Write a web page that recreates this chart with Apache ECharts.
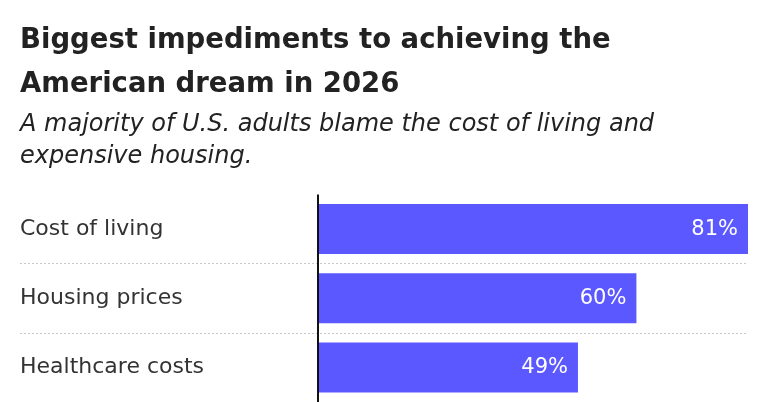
<!DOCTYPE html>
<html>
<head>
	<meta charset="utf-8"/>
	<title>Biggest impediments to achieving the American dream in 2026</title>
	<style>
		html, body { margin: 0; padding: 0; background: #fff; }
		#chart { width: 768px; height: 402px; }
	</style>
</head>
<body>
	<div id="chart"></div>
	<script src="https://cdn.jsdelivr.net/npm/echarts@6/dist/echarts.min.js"></script>
	<script>
		var categories = ['Cost of living', 'Housing prices', 'Healthcare costs'];
		var shares = [81, 60, 49];

		var font = '"DejaVu Sans", sans-serif';
		var myChart = echarts.init(document.getElementById('chart'));

		var option = {
			animation: false,
			title: {
				text: 'Biggest impediments to achieving the\nAmerican dream in 2026',
				subtext: 'A majority of U.S. adults blame the cost of living and\nexpensive housing.',
				left: 20,
				top: 19,
				padding: 0,
				itemGap: 2,
				textStyle: {
					fontFamily: font,
					fontSize: 27.5,
					fontWeight: 'bold',
					lineHeight: 44,
					color: '#222'
				},
				subtextStyle: {
					fontFamily: font,
					fontSize: 24,
					fontStyle: 'italic',
					lineHeight: 32,
					color: '#222'
				}
			},
			grid: {
				left: 20,
				right: 20,
				top: 194.5,
				bottom: -2.5
			},
			xAxis: {
				type: 'value',
				min: -56, // puts the zero line where the bars start
				max: 81,
				show: false
			},
			yAxis: {
				type: 'category',
				data: categories,
				inverse: true,
				axisLine: { show: false },
				axisTick: { show: false },
				axisLabel: {
					inside: true,
					margin: 0,
					align: 'left',
					fontFamily: font,
					fontSize: 22,
					color: '#333'
				},
				splitLine: {
					show: true,
					lineStyle: {
						type: [2, 2],
						width: 1,
						// skip the top and bottom edges
						color: ['rgba(0,0,0,0)', '#c8c8c8', '#c8c8c8', 'rgba(0,0,0,0)']
					}
				}
			},
			series: [
				{
					type: 'bar',
					data: shares,
					barWidth: 50,
					itemStyle: { color: '#5c58ff' },
					label: {
						show: true,
						position: 'insideRight',
						distance: 10,
						formatter: '{c}%',
						fontFamily: font,
						fontSize: 21,
						color: '#fff'
					},
					markLine: {
						silent: true,
						symbol: 'none',
						label: { show: false },
						lineStyle: { color: '#111', width: 2, type: 'solid' },
						data: [{ xAxis: 0 }]
					}
				}
			]
		};

		myChart.setOption(option);
	</script>
</body>
</html>
